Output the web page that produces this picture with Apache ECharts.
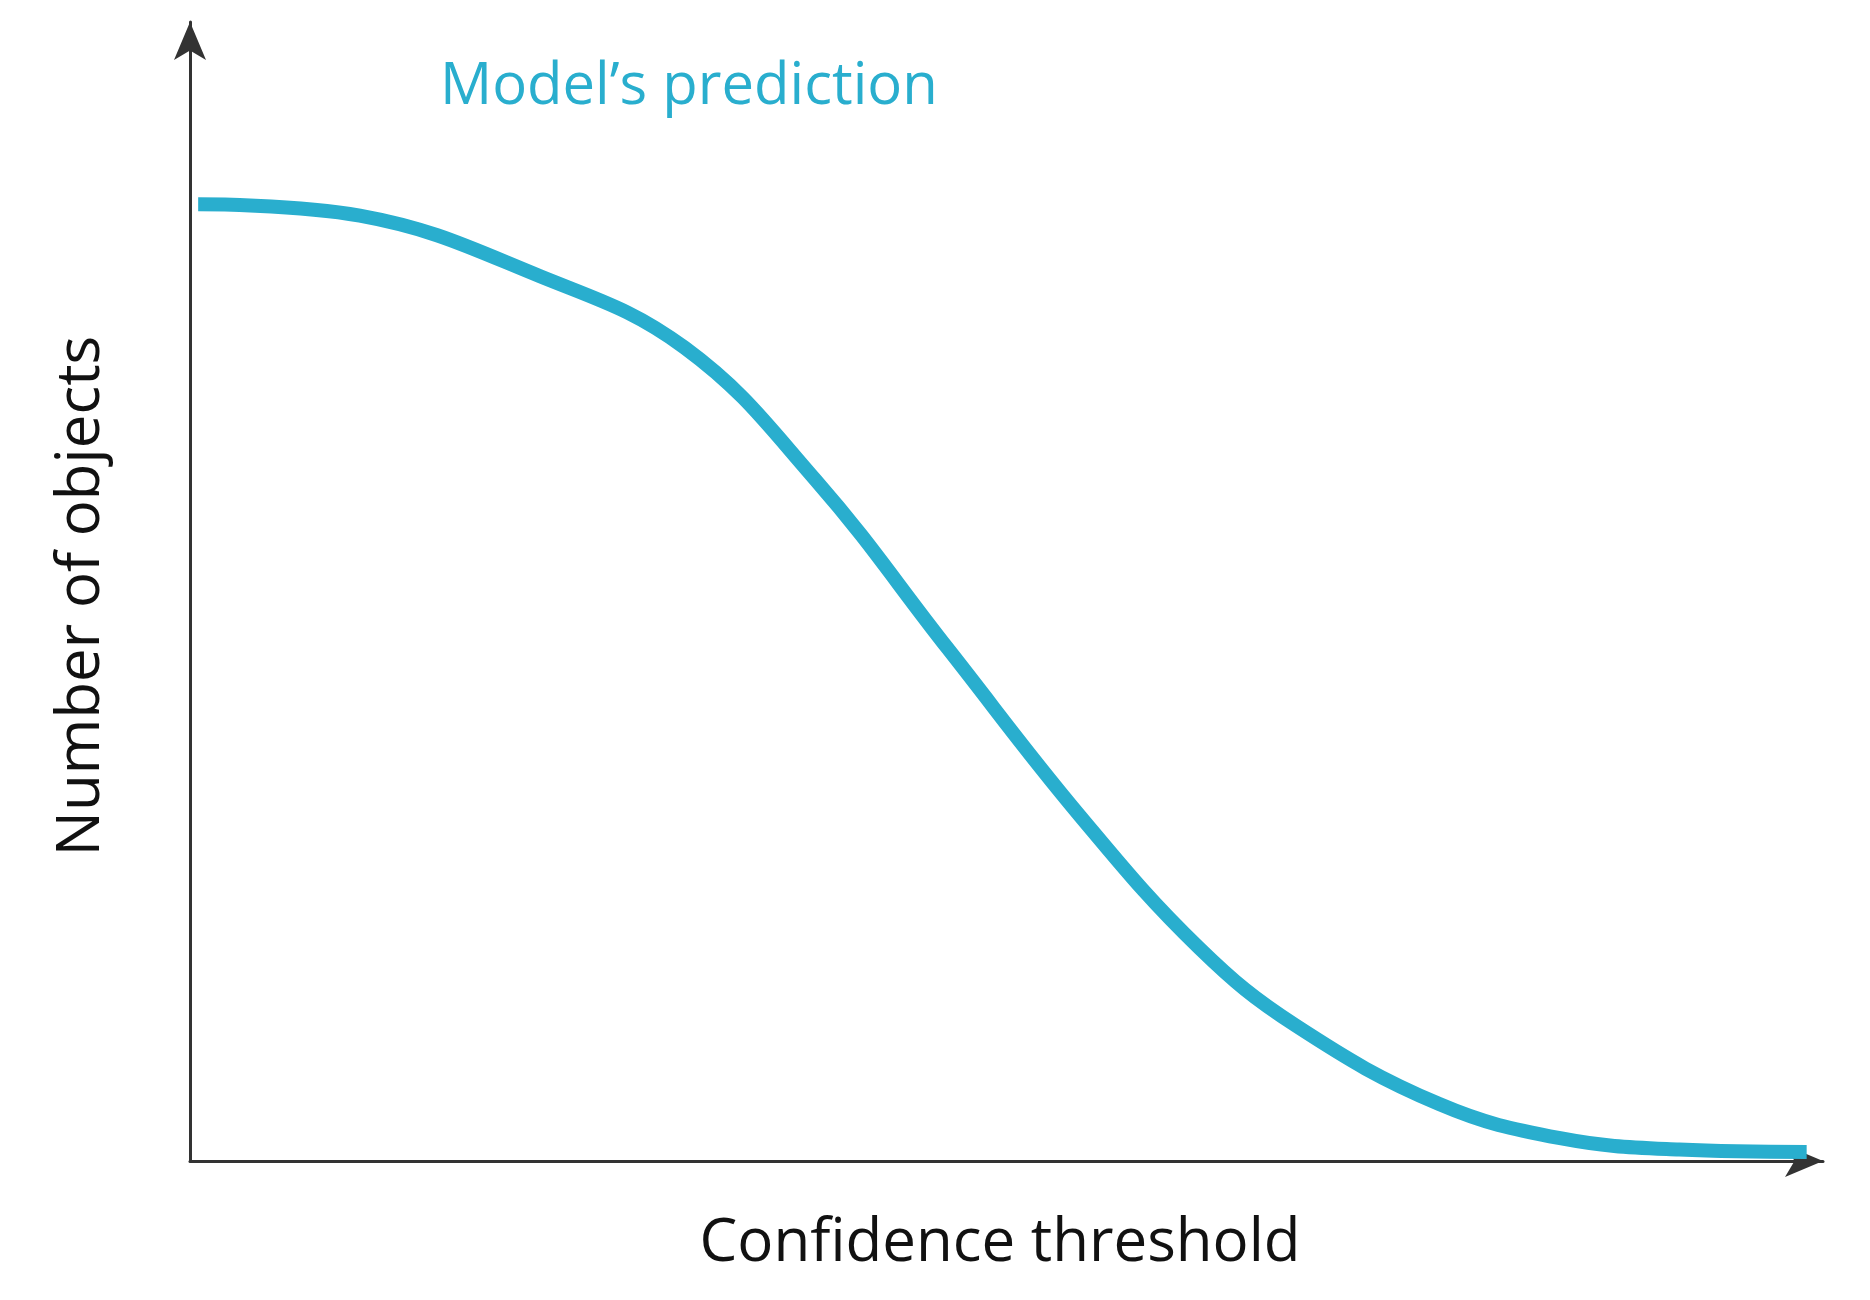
<!DOCTYPE html>
<html>
<head>
<meta charset="utf-8">
<script src="https://cdn.jsdelivr.net/npm/echarts@6/dist/echarts.min.js"></script>
<style>html,body{margin:0;padding:0;background:#fff}#chart{width:1870px;height:1300px}</style>
</head>
<body>
<div id="chart"></div>
<script>
var thresholds = [0.5, 10.4, 21.4, 30.3, 38.3, 46.4, 54.5, 61.8, 67.7, 76.5, 83.9, 91.2, 99.0];
var counts = [84.0, 83.0, 77.7, 71.4, 59.8, 45.0, 30.3, 18.7, 11.9, 5.0, 2.0, 1.0, 0.8];

var chart = echarts.init(document.getElementById('chart'));
var axisLine = {
    show: true,
    symbol: ['none', 'arrow'],
    symbolSize: [24, 38],
    lineStyle: {color: '#333', width: 3}
};
var option = {
    animation: false,
    grid: {left: 190, right: 47, top: 22, bottom: 139},
    xAxis: {
        type: 'value', min: 0, max: 100,
        axisLine: axisLine,
        axisTick: {show: false}, axisLabel: {show: false}, splitLine: {show: false}
    },
    yAxis: {
        type: 'value', min: 0, max: 100,
        axisLine: axisLine,
        axisTick: {show: false}, axisLabel: {show: false}, splitLine: {show: false}
    },
    graphic: [
        {type: 'text', left: 440, top: 58, style: {text: 'Model\u2019s prediction', fill: '#29aece', font: '58px "Open Sans"'}},
        {type: 'text', x: 1000, y: 1244, style: {text: 'Confidence threshold', fill: '#111', font: '60px "Open Sans"', align: 'center', verticalAlign: 'middle'}},
        {type: 'text', x: 82, y: 596, rotation: Math.PI / 2, style: {text: 'Number of objects', fill: '#111', font: '60px "Open Sans"', align: 'center', verticalAlign: 'middle'}}
    ],
    series: [{
        type: 'line',
        data: thresholds.map(function (t, i) { return [t, counts[i]]; }),
        smooth: 0.4,
        showSymbol: false,
        lineStyle: {color: '#29aece', width: 14}
    }]
};
chart.setOption(option);
</script>
</body>
</html>
